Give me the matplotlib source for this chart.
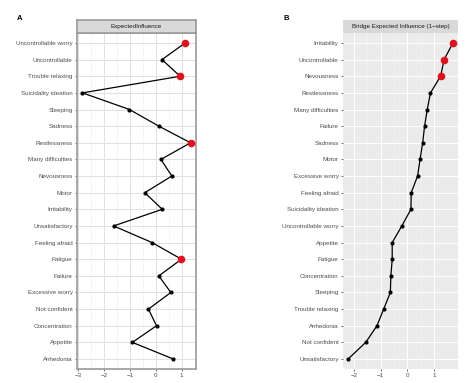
import matplotlib
matplotlib.use('Agg')
import matplotlib.pyplot as plt
import numpy as np

plt.rcParams['font.family'] = ['Liberation Sans', 'DejaVu Sans']

# panel A: expected influence (top to bottom)
labels_a = ['Uncontrollable worry', 'Uncontrollable', 'Trouble relaxing', 'Suicidality ideation',
            'Sleeping', 'Sadness', 'Restlessness', 'Many difficulties', 'Nevousness', 'Motor',
            'Irritability', 'Unsatisfactory', 'Feeling afraid', 'Fatigue', 'Failure',
            'Excessive worry', 'Not confident', 'Concentration', 'Appetite', 'Anhedonia']
values_a = [1.13, 0.24, 0.94, -2.82, -1.01, 0.12, 1.34, 0.20, 0.62, -0.42,
            0.25, -1.62, -0.14, 0.99, 0.12, 0.58, -0.28, 0.03, -0.90, 0.68]
red_a = ['Uncontrollable worry', 'Trouble relaxing', 'Restlessness', 'Fatigue']

# panel B: bridge expected influence (1-step)
labels_b = ['Irritability', 'Uncontrollable', 'Nevousness', 'Restlessness', 'Many difficulties',
            'Failure', 'Sadness', 'Motor', 'Excessive worry', 'Feeling afraid',
            'Suicidality ideation', 'Uncontrollable worry', 'Appetite', 'Fatigue',
            'Concentration', 'Sleeping', 'Trouble relaxing', 'Anhedonia', 'Not confident',
            'Unsatisfactory']
values_b = [1.70, 1.37, 1.24, 0.86, 0.74, 0.64, 0.57, 0.47, 0.38, 0.14,
            0.13, -0.21, -0.57, -0.57, -0.62, -0.64, -0.89, -1.14, -1.56, -2.22]
red_b = ['Irritability', 'Uncontrollable', 'Nevousness']

W, H = 474, 383
fig = plt.figure(figsize=(W / 100, H / 100), dpi=100)
RED = '#E3101C'
FS = 4.5


def panel(x0, x1, labels, values, reds, xticks, xlim, strip_text, bw):
    y0, y1, ys = 369, 33, 20
    ax = fig.add_axes([x0 / W, 1 - y0 / H, (x1 - x0) / W, (y0 - y1) / H])
    st = fig.add_axes([x0 / W, 1 - y1 / H, (x1 - x0) / W, (y1 - ys) / H])
    n = len(labels)
    y = np.arange(n)[::-1]
    ax.set_ylim(-0.6, n - 0.4)
    ax.set_xlim(*xlim)
    if bw:
        ax.set_facecolor('white')
        major, minor = '#E0E0E0', '#EEEEEE'
        for s in ax.spines.values():
            s.set_color('#9A9A9A')
            s.set_linewidth(1.2)
    else:
        ax.set_facecolor('#EBEBEB')
        major, minor = 'white', '#F5F5F5'
        for s in ax.spines.values():
            s.set_visible(False)
    ax.set_axisbelow(True)
    ax.set_xticks(xticks)
    ax.set_xticks(np.array(xticks[:-1]) + 0.5, minor=True)
    ax.grid(True, which='major', color=major, lw=0.7)
    ax.grid(True, which='minor', axis='x', color=minor, lw=0.4)
    ax.set_yticks(y)
    ax.set_yticklabels(labels)
    ax.set_xticklabels([str(t).replace('-', '\u2212') for t in xticks])
    ax.tick_params(axis='both', which='major', labelsize=FS, colors='#333333',
                   labelcolor='#4D4D4D', length=1.6, width=0.5, pad=1.5)
    ax.tick_params(axis='x', which='minor', length=0)
    ax.plot(values, y, color='black', lw=0.9, zorder=3)
    ax.scatter(values, y, s=4, color='black', zorder=4)
    ry = [yy for yy, l in zip(y, labels) if l in reds]
    rv = [v for v, l in zip(values, labels) if l in reds]
    ax.scatter(rv, ry, s=30, color=RED, zorder=5, linewidths=0)

    st.set_xticks([])
    st.set_yticks([])
    st.set_facecolor('#D9D9D9')
    for s in st.spines.values():
        if bw:
            s.set_color('#9A9A9A')
            s.set_linewidth(1.2)
        else:
            s.set_visible(False)
    st.text(0.5, 0.5, strip_text, ha='center', va='center', fontsize=FS, color='#1A1A1A',
            transform=st.transAxes)
    return ax


panel(77, 196, labels_a, values_a, red_a, [-3, -2, -1, 0, 1], (-3.03, 1.55),
      'ExpectedInfluence', True)
panel(343, 458, labels_b, values_b, red_b, [-2, -1, 0, 1], (-2.41, 1.89),
      'Bridge Expected Influence (1\u2212step)', False)

fig.text(17 / W, 1 - 18 / H, 'A', fontsize=5.5, fontweight='bold', va='center')
fig.text(283 / W, 1 - 18 / H, 'B', fontsize=5.5, fontweight='bold', va='center')

fig.savefig('out.png', dpi=100)
